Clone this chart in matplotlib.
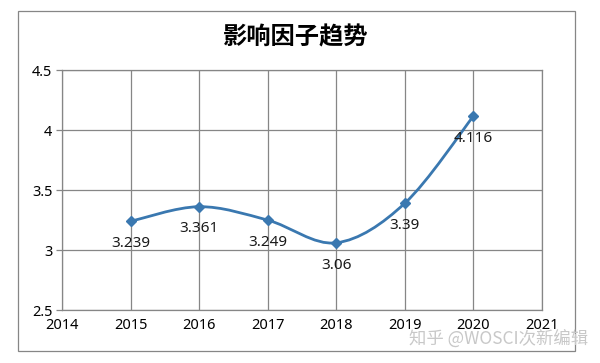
import numpy as np
import matplotlib.pyplot as plt
from matplotlib.path import Path
from matplotlib.patches import PathPatch, Rectangle

plt.rcParams['font.family'] = ['Noto Sans', 'Noto Sans CJK SC', 'DejaVu Sans']

# 数据
years = [2015, 2016, 2017, 2018, 2019, 2020]
impact = [3.239, 3.361, 3.249, 3.06, 3.39, 4.116]
labels = ['3.239', '3.361', '3.249', '3.06', '3.39', '4.116']
x_ticks = [2014, 2015, 2016, 2017, 2018, 2019, 2020, 2021]
y_ticks = [2.5, 3, 3.5, 4, 4.5]
y_tick_labels = ['2.5', '3', '3.5', '4', '4.5']

line_color = '#3a78b0'
grid_color = '#868686'

fig = plt.figure(figsize=(6, 3.63), dpi=100)
ax = fig.add_axes([62 / 600, 1 - 310 / 363, 480 / 600, 240 / 363])

# 平滑曲线 (类似 Excel 的贝塞尔平滑)
pts = np.column_stack([years, impact])
verts = [pts[0]]
codes = [Path.MOVETO]
n = len(pts)
for i in range(n - 1):
    p0 = pts[max(i - 1, 0)]
    p1 = pts[i]
    p2 = pts[i + 1]
    p3 = pts[min(i + 2, n - 1)]
    c1 = p1 + (p2 - p0) / 6
    c2 = p2 - (p3 - p1) / 6
    verts += [c1, c2, p2]
    codes += [Path.CURVE4] * 3
ax.add_patch(PathPatch(Path(verts, codes), fill=False, edgecolor=line_color,
                       lw=2, zorder=3, capstyle='round'))
ax.plot(years, impact, linestyle='none', marker='D', markersize=5.5,
        color=line_color, zorder=4)

for x, y, s in zip(years, impact, labels):
    ax.annotate(s, (x, y), xytext=(0, -16), textcoords='offset points',
                ha='center', va='center', fontsize=11, color='#1a1a1a', zorder=5)

ax.set_xlim(2014, 2021)
ax.set_ylim(2.5, 4.5)
ax.set_xticks(x_ticks)
ax.set_yticks(y_ticks)
ax.set_yticklabels(y_tick_labels)
ax.grid(True, color=grid_color, lw=0.9)
ax.set_axisbelow(True)
for sp in ax.spines.values():
    sp.set_color(grid_color)
    sp.set_linewidth(0.9)
ax.tick_params(axis='y', length=4, color=grid_color, width=0.9, pad=3,
               labelsize=10.5)
ax.tick_params(axis='x', length=0, pad=6, labelsize=10.5)

fig.text(296 / 600, 1 - 37 / 363, '影响因子趋势', ha='center', va='center',
         fontsize=17.5, fontweight='bold',
         family=['Noto Sans CJK SC', 'DejaVu Sans'])

# 外框
fig.patches.append(Rectangle((18 / 600, 1 - 351 / 363), 557 / 600, 340 / 363,
                             transform=fig.transFigure, fill=False,
                             edgecolor=grid_color, lw=0.9))

# 水印
fig.text(588 / 600, 1 - 340 / 363, '知乎 @WOSCI次新编辑', ha='right', va='center',
         fontsize=12.5, color='#c8c8c8', zorder=10,
         family=['Noto Sans CJK SC', 'DejaVu Sans'])

fig.savefig('out.png', dpi=100)
